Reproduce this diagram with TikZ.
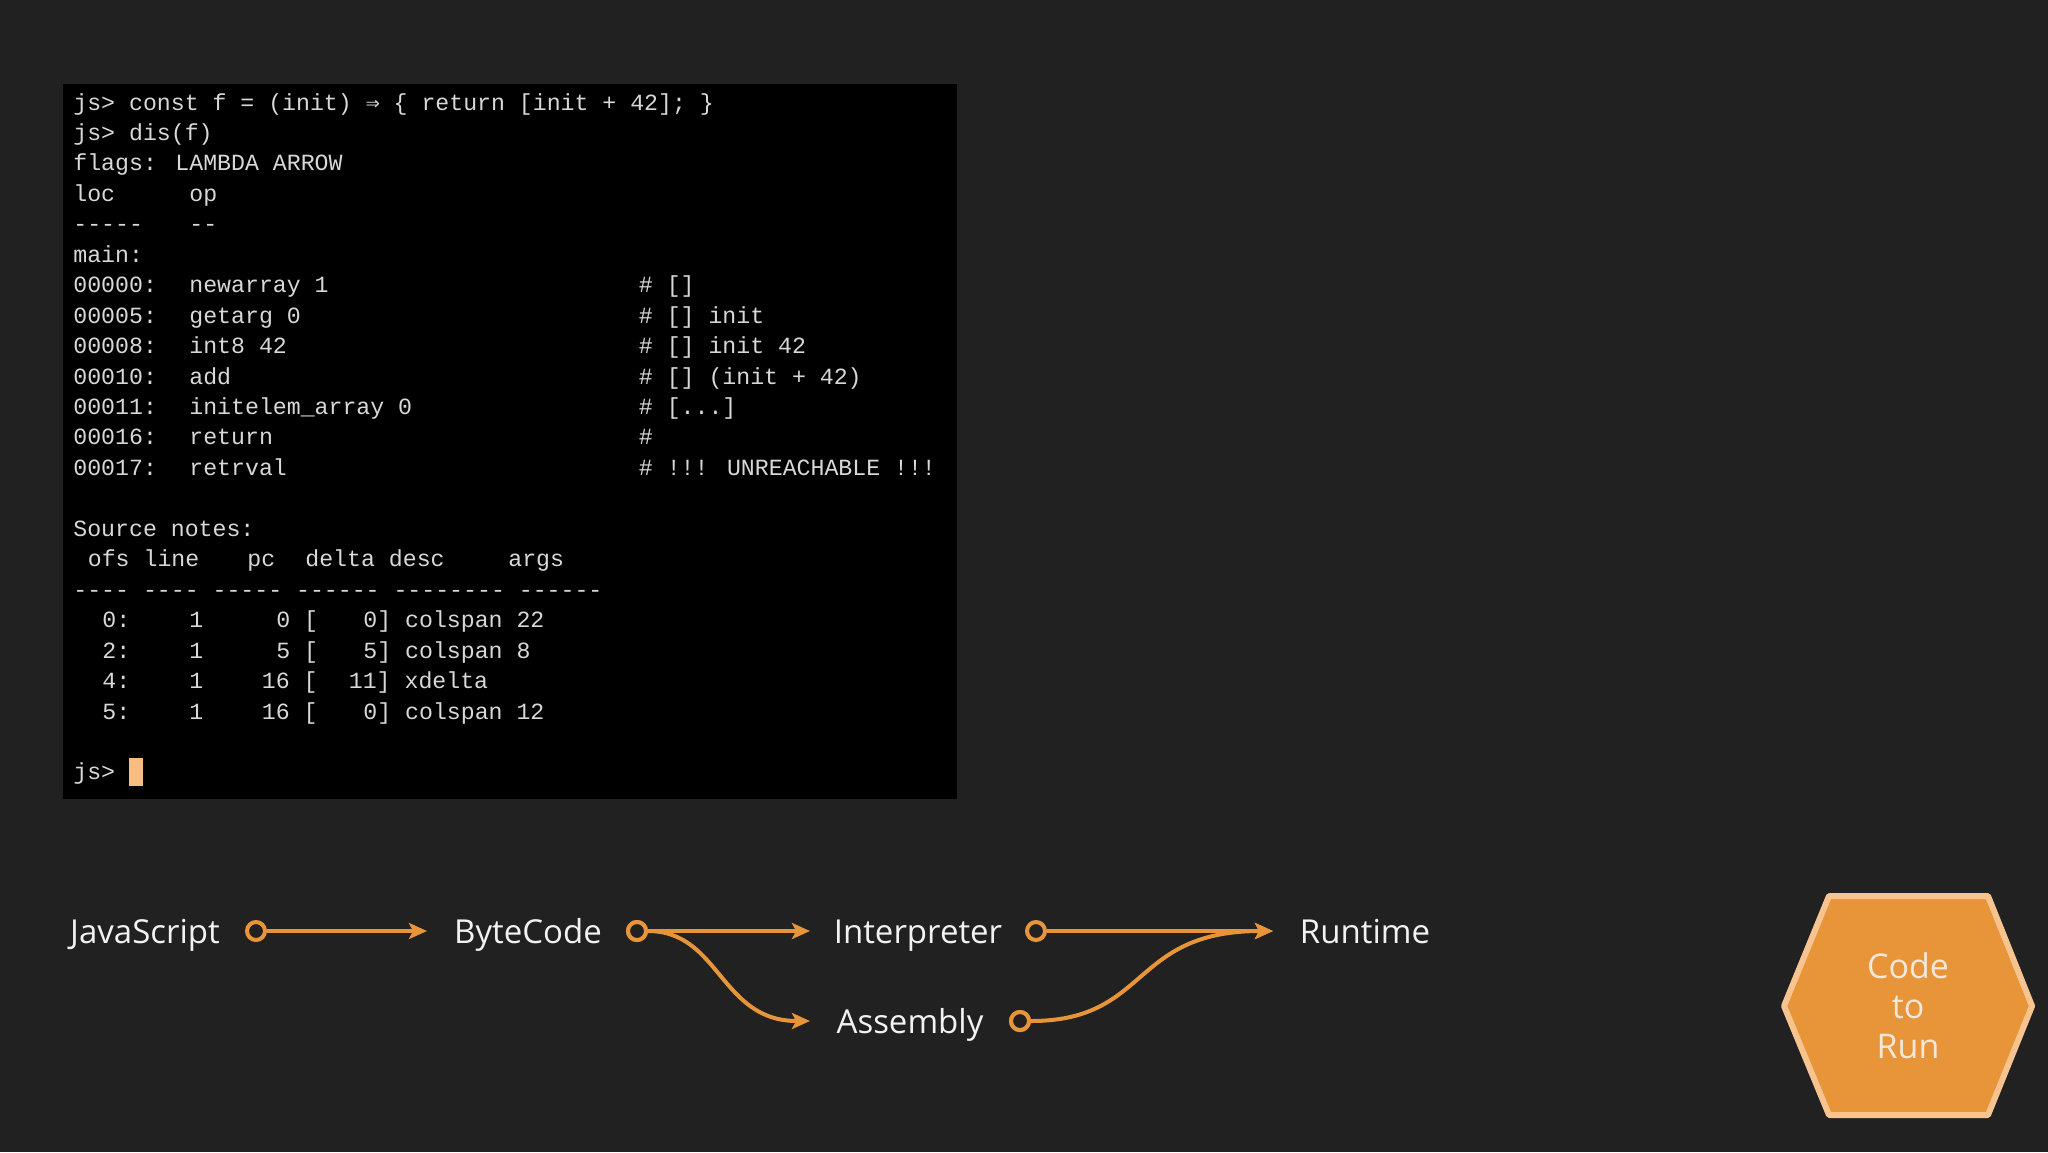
\documentclass[tikz,border=0pt]{standalone}
\usepackage{fontspec}
\setmainfont{Open Sans}
\newfontfamily\termfont{Liberation Mono}
\newfontfamily\symfont{DejaVu Sans Mono}
\usetikzlibrary{arrows.meta}
\definecolor{bg}{HTML}{212121}
\definecolor{term}{HTML}{000000}
\definecolor{ttxt}{HTML}{D8D8D8}
\definecolor{org}{HTML}{E8953A}
\definecolor{orgl}{HTML}{F7C490}
\definecolor{lbl}{HTML}{F2F2F2}
\tikzset{
  tline/.style={anchor=base west,inner sep=0pt,text=ttxt,font=\termfont\fontsize{11.6}{14}\selectfont},
  lab/.style={text=lbl,font=\fontsize{16.5}{20}\selectfont,inner sep=0pt,anchor=base},
  conn/.style={draw=org,line width=2pt,-{Stealth[length=9pt,width=8pt,inset=2pt]}},
  dot/.style={circle,draw=org,line width=2pt,fill=bg,minimum size=9pt,inner sep=0pt},
}
\newcommand\TL[4]{\node[tline] (#1) at ({73+14.5*#3},{110+30.45*#2}) {#4};}
\begin{document}
\begin{tikzpicture}[x=0.5pt,y=-0.5pt]
\fill[bg] (0,0) rectangle (2048,1152);
\useasboundingbox (0,0) rectangle (2048,1152);
\fill[term] (63,84) rectangle (957,799);
\TL{a0}{0}{0}{js> const f = (init) {\symfont ⇒} \{ return [init + 42]; \}}
\TL{a1}{1}{0}{js> dis(f)}
\TL{a2}{2}{0}{flags: LAMBDA ARROW}
\TL{a3}{3}{0}{loc} \TL{a3b}{3}{8}{op}
\TL{a4}{4}{0}{-----} \TL{a4b}{4}{8}{--}
\TL{a5}{5}{0}{main:}
\TL{b0}{6}{0}{00000:} \TL{b0b}{6}{8}{newarray 1} \TL{b0c}{6}{39}{\# []}
\TL{b1}{7}{0}{00005:} \TL{b1b}{7}{8}{getarg 0} \TL{b1c}{7}{39}{\# [] init}
\TL{b2}{8}{0}{00008:} \TL{b2b}{8}{8}{int8 42} \TL{b2c}{8}{39}{\# [] init 42}
\TL{b3}{9}{0}{00010:} \TL{b3b}{9}{8}{add} \TL{b3c}{9}{39}{\# [] (init + 42)}
\TL{b4}{10}{0}{00011:} \TL{b4b}{10}{8}{initelem\_array 0} \TL{b4c}{10}{39}{\# [...]}
\TL{b5}{11}{0}{00016:} \TL{b5b}{11}{8}{return} \TL{b5c}{11}{39}{\#}
\TL{b6}{12}{0}{00017:} \TL{b6b}{12}{8}{retrval} \TL{b6c}{12}{39}{\# !!! UNREACHABLE !!!}
\TL{c0}{14}{0}{Source notes:}
\TL{c1}{15}{1}{ofs line} \TL{c1b}{15}{12}{pc} \TL{c1c}{15}{16}{delta desc} \TL{c1d}{15}{30}{args}
\TL{c2}{16}{0}{---- ---- ----- ------ -------- ------}
\TL{d0}{17}{2}{0:} \TL{d0b}{17}{8}{1} \TL{d0c}{17}{14}{0 [} \TL{d0d}{17}{20}{0] colspan 22}
\TL{d1}{18}{2}{2:} \TL{d1b}{18}{8}{1} \TL{d1c}{18}{14}{5 [} \TL{d1d}{18}{20}{5] colspan 8}
\TL{d2}{19}{2}{4:} \TL{d2b}{19}{8}{1} \TL{d2c}{19}{13}{16 [} \TL{d2d}{19}{19}{11] xdelta}
\TL{d3}{20}{2}{5:} \TL{d3b}{20}{8}{1} \TL{d3c}{20}{13}{16 [} \TL{d3d}{20}{20}{0] colspan 12}
\TL{e0}{22}{0}{js>}
\fill[orgl!90!orange] (129,758) rectangle (143,786);
% flow
\node[lab] (js) at (145,943) {JavaScript};
\node[lab] (bc) at (528,943) {ByteCode};
\node[lab] (in) at (918,943) {Interpreter};
\node[lab] (rt) at (1365,943) {Runtime};
\node[lab] (as) at (910,1033) {Assembly};
\node[dot] (d1) at (256,931) {};
\node[dot] (d2) at (637,931) {};
\node[dot] (d3) at (1036,931) {};
\node[dot] (d4) at (1020,1021) {};
\coordinate (t1) at (427,931);
\coordinate (t2) at (810,931);
\coordinate (t3) at (1273,931);
\coordinate (t4) at (810,1021);
\draw[conn] (d1) -- (t1);
\draw[conn] (d2) -- (t2);
\draw[conn] (d3) -- (t3);
\draw[conn] (d2.east) .. controls (720,931) and (720,1021) .. (t4);
\draw[conn] (d4.east) .. controls (1150,1021) and (1130,931) .. (t3);
\node[dot] at (d2) {};
\node[dot] at (d4) {};
% hexagon
\draw[fill=org,draw=orgl,line width=3pt,line join=round]
  (1784,1006) -- (1829,896) -- (1988,896) -- (2032,1006) -- (1988,1115) -- (1829,1115) -- cycle;
\node[text=lbl!90!orange,font=\fontsize{17}{20}\selectfont,align=center] (hx) at (1908,1006) {Code\\to\\Run};
\end{tikzpicture}
\end{document}
